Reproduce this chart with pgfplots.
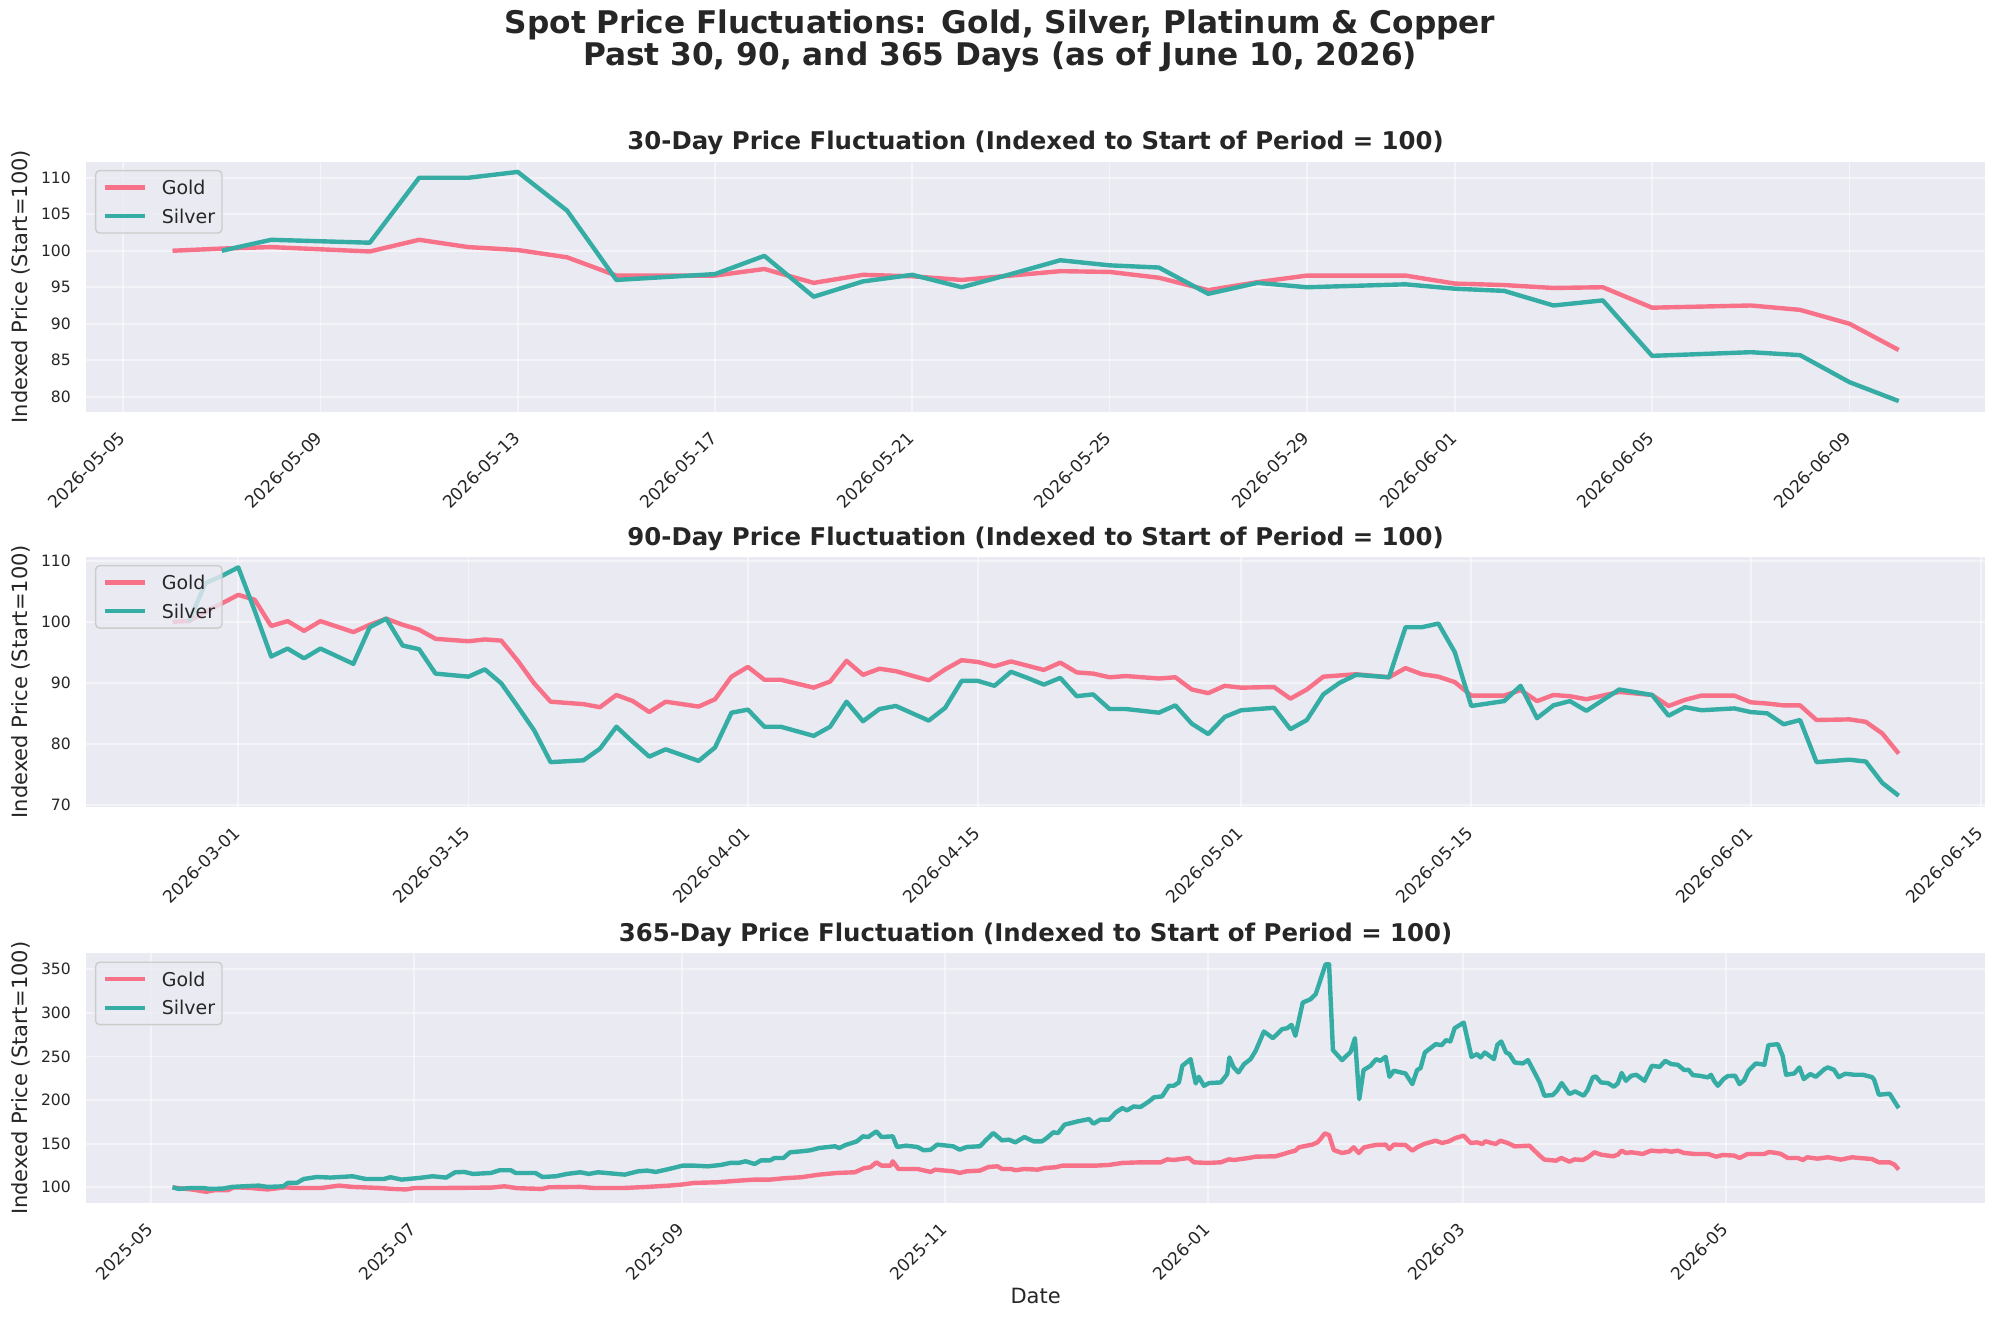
\documentclass[border=0pt]{standalone}
\usepackage{fontspec}
\setmainfont{DejaVu Sans}
\usepackage{pgfplots}
\pgfplotsset{compat=1.18}
\definecolor{axbg}{HTML}{EAEAF2}
\definecolor{goldc}{HTML}{F77189}
\definecolor{silverc}{HTML}{36ADA4}
\definecolor{txt}{HTML}{262626}
\pgfplotsset{
  panel/.style={
    scale only axis, width=949.4pt, height=125pt, anchor=north west,
    axis background/.style={fill=axbg},
    axis line style={draw=none},
    major tick length=0pt, tick style={draw=none},
    grid=major, major grid style={draw=white, line width=0.9pt, opacity=0.5},
    enlargelimits=false,
    /pgf/number format/assume math mode=true,
    tick label style={font=\fontsize{7.8}{9}\selectfont, text=txt},
    yticklabel style={anchor=east, inner sep=0pt, xshift=-7.5pt},
    xticklabel style={yshift=-9pt, xshift=-3pt, rotate=45, anchor=north east, inner sep=0pt, font=\fontsize{8.6}{10}\selectfont},
    every axis title/.style={at={(0.5,1)}, anchor=base, yshift=5.85pt, font=\bfseries\fontsize{12.2}{14}\selectfont, text=txt},
    ylabel={Indexed Price (Start=100)},
    ylabel style={at={(axis description cs:-0.0343,0.5)}, anchor=center, rotate=0, font=\fontsize{10.5}{12}\selectfont, text=txt},
    legend style={at={(axis description cs:0.0046,0.967)}, anchor=north west,
      draw=black!20, line width=0.7pt, fill=axbg, fill opacity=0.8, draw opacity=1, text opacity=1,
      rounded corners=2pt, font=\fontsize{9.5}{11}\selectfont, text=txt,
      inner xsep=3.4pt, inner ysep=5pt, row sep=7.4pt,
      nodes={inner sep=0pt, text height=6.9pt, text depth=0pt},
      /tikz/every odd column/.append style={column sep=7.5pt}},
    legend cell align=left,
    legend image code/.code={\draw[#1, line width=2.2pt] (0pt,0pt) -- (20pt,0pt);},
  },
  gl/.style={color=goldc, line width=2.2pt, line join=round, no markers},
  sl/.style={color=silverc, line width=2.2pt, line join=round, no markers},
}
\begin{document}
\begin{tikzpicture}
\useasboundingbox (0,0) rectangle (1000pt,-660pt);
\node[anchor=base, font=\bfseries\fontsize{15.6}{18}\selectfont, text=txt] at (500pt,-17pt) {Spot Price Fluctuations: Gold, Silver, Platinum \& Copper};
\node[anchor=base, font=\bfseries\fontsize{15.6}{18}\selectfont, text=txt] at (500pt,-32.85pt) {Past 30, 90, and 365 Days (as of June 10, 2026)};

% 30-day panel: x = day number with 2026-05-01 = 1, 2026-06-01 = 32
\begin{axis}[panel, at={(43.1pt,-80.85pt)},
  title={30-Day Price Fluctuation (Indexed to Start of Period = 100)},
  xmin=4.25, xmax=42.75, ymin=77.95, ymax=112.2,
  xtick={5,9,13,17,21,25,29,32,36,40},
  xticklabels={2026-05-05,2026-05-09,2026-05-13,2026-05-17,2026-05-21,2026-05-25,2026-05-29,2026-06-01,2026-06-05,2026-06-09},
  ytick={80,85,90,95,100,105,110}]
\addplot[gl] coordinates {(6,100.0)(7,100.3)(8,100.5)(10,99.9)(11,101.5)(12,100.5)(13,100.1)(14,99.1)(15,96.6)(17,96.6)(18,97.5)(19,95.6)(20,96.7)(21,96.5)(22,96.0)(23,96.6)(24,97.2)(25,97.1)(26,96.3)(27,94.6)(28,95.7)(29,96.6)(31,96.6)(32,95.5)(33,95.3)(34,94.9)(35,95.0)(36,92.2)(38,92.5)(39,91.9)(40,90.0)(41,86.4)};
\addlegendentry{Gold}
\addplot[sl] coordinates {(7,100.0)(8,101.5)(10,101.1)(11,110.0)(12,110.0)(13,110.8)(14,105.5)(15,96.0)(17,96.8)(18,99.3)(19,93.7)(20,95.8)(21,96.7)(22,95.0)(23,96.8)(24,98.7)(25,98.0)(26,97.7)(27,94.1)(28,95.6)(29,95.0)(31,95.4)(32,94.8)(33,94.5)(34,92.5)(35,93.2)(36,85.6)(38,86.1)(39,85.7)(40,82.0)(41,79.4)};
\addlegendentry{Silver}
\end{axis}

% 90-day panel: x = days since 2026-03-01
\begin{axis}[panel, at={(43.1pt,-278.35pt)},
  title={90-Day Price Fluctuation (Indexed to Start of Period = 100)},
  xmin=-9.25, xmax=106.25, ymin=69.7, ymax=110.65,
  xtick={0,14,31,45,61,75,92,106},
  xticklabels={2026-03-01,2026-03-15,2026-04-01,2026-04-15,2026-05-01,2026-05-15,2026-06-01,2026-06-15},
  ytick={70,80,90,100,110}]
\addplot[gl] coordinates {(-4,100.0)(-3,100.1)(-2,101.6)(-1,103.0)(0,104.4)(1,103.6)(2,99.3)(3,100.1)(4,98.5)(5,100.1)(7,98.3)(8,99.5)(9,100.5)(10,99.5)(11,98.7)(12,97.2)(14,96.8)(15,97.1)(16,96.9)(17,93.6)(18,89.9)(19,86.9)(21,86.5)(22,86.0)(23,88.0)(24,87.0)(25,85.2)(26,86.9)(28,86.1)(29,87.3)(30,91.0)(31,92.6)(32,90.5)(33,90.5)(35,89.2)(36,90.2)(37,93.6)(38,91.3)(39,92.3)(40,91.9)(42,90.4)(43,92.2)(44,93.7)(45,93.4)(46,92.7)(47,93.5)(48,92.8)(49,92.1)(50,93.3)(51,91.7)(52,91.5)(53,90.9)(54,91.1)(56,90.7)(57,90.9)(58,88.9)(59,88.3)(60,89.5)(61,89.2)(63,89.3)(64,87.4)(65,88.9)(66,91.0)(68,91.4)(70,90.9)(71,92.4)(72,91.4)(73,91.0)(74,90.1)(75,87.9)(77,87.9)(78,88.8)(79,87.0)(80,88.0)(81,87.8)(82,87.3)(84,88.5)(86,88.0)(87,86.2)(88,87.2)(89,87.9)(91,87.9)(92,86.8)(93,86.6)(94,86.3)(95,86.3)(96,83.9)(98,84.0)(99,83.6)(100,81.7)(101,78.4)};
\addlegendentry{Gold}
\addplot[sl] coordinates {(-3,100.0)(-2,106.3)(-1,107.5)(0,108.9)(1,101.8)(2,94.3)(3,95.6)(4,94.0)(5,95.6)(7,93.1)(8,99.1)(9,100.5)(10,96.1)(11,95.5)(12,91.5)(14,91.0)(15,92.2)(16,89.9)(17,86.1)(18,82.2)(19,77.0)(21,77.3)(22,79.2)(23,82.8)(24,80.3)(25,77.9)(26,79.1)(28,77.2)(29,79.4)(30,85.1)(31,85.6)(32,82.8)(33,82.8)(35,81.3)(36,82.8)(37,86.9)(38,83.7)(39,85.7)(40,86.2)(42,83.8)(43,85.9)(44,90.3)(45,90.3)(46,89.5)(47,91.8)(48,90.8)(49,89.7)(50,90.8)(51,87.8)(52,88.1)(53,85.7)(54,85.7)(56,85.1)(57,86.3)(58,83.3)(59,81.6)(60,84.4)(61,85.5)(63,85.9)(64,82.4)(65,83.9)(66,88.1)(67,90.0)(68,91.3)(70,90.9)(71,99.1)(72,99.1)(73,99.7)(74,95.0)(75,86.2)(77,87.0)(78,89.5)(79,84.2)(80,86.3)(81,87.0)(82,85.4)(84,88.9)(86,88.0)(87,84.6)(88,86.0)(89,85.5)(91,85.8)(92,85.2)(93,85.0)(94,83.2)(95,83.9)(96,77.0)(98,77.4)(99,77.1)(100,73.6)(101,71.5)};
\addlegendentry{Silver}
\end{axis}

% 365-day panel: x = days since 2025-05-01
\begin{axis}[panel, at={(43.1pt,-476.65pt)},
  title={365-Day Price Fluctuation (Indexed to Start of Period = 100)},
  xmin=-15, xmax=425, ymin=81.6, ymax=368.3,
  xtick={0,61,123,184,245,304,365},
  xticklabels={2025-05,2025-07,2025-09,2025-11,2026-01,2026-03,2026-05},
  ytick={100,150,200,250,300,350},
  xlabel={Date},
  xlabel style={at={(axis description cs:0.5,0)}, anchor=base, yshift=-50pt, font=\fontsize{10.5}{12}\selectfont, text=txt}]
\addplot[gl] coordinates {(5,100)(6.4,98.9)(9.5,97.5)(12.8,94.8)(14.7,96.6)(17.8,96.6)(19.3,100)(23,99.2)(27,97.5)(31.2,100)(33.3,99.2)(39.5,99.2)(43.6,101.9)(46.7,100.4)(52.9,99.2)(56,98.1)(59.1,97.5)(61.2,99.2)(68.4,99.2)(78.8,99.6)(81.9,101.1)(85,98.9)(90.7,98.1)(92.2,100)(99.5,100.4)(102.6,99.2)(109.8,99.2)(115,100.4)(120.1,101.9)(122.8,103)(125.9,105)(131.1,105.7)(136.2,107.6)(139.9,108.8)(143.5,108.8)(146.6,110.3)(150.7,111.5)(154.8,114.5)(159,116.4)(163.1,117.2)(165.2,121.8)(166.7,122.9)(168.1,128.6)(169.3,124.8)(171.4,124.8)(171.9,129.8)(173.2,121)(177.6,121)(180.7,117.6)(181.7,120.2)(185.9,118.3)(187.4,116.4)(189,118.3)(192.1,119.1)(194.1,123.3)(196.2,124)(197.2,121)(199.3,121)(200.3,119.5)(202.4,121)(205.5,120.2)(207.1,122.1)(209.6,122.9)(211.2,124.8)(218.9,124.8)(222,125.6)(225.1,127.9)(229.3,128.6)(234,128.6)(235.5,132)(237,131.3)(240.5,133.6)(241.7,128.6)(244.8,127.9)(247.9,128.6)(249.8,132)(251,131.3)(254.4,133.6)(256,135.1)(260.6,135.5)(262.5,138.2)(263.7,140.1)(265.2,142)(266,145.8)(269.1,148.9)(270.3,151.5)(271,155.3)(272,161.8)(273,159.9)(274.1,142.7)(276,139.3)(277.6,140.8)(278.7,145.8)(279.9,139.3)(281.1,145.8)(283.8,148.5)(286.1,148.9)(287,143.9)(288,148.9)(290.7,148.5)(292.3,142)(293.4,145.8)(295,149.6)(297.7,153.4)(299.2,150.8)(300.8,152.7)(302.3,156.5)(304.2,159.2)(305.8,150.8)(307.3,151.5)(308.5,149.6)(309.2,152.7)(311.6,149.6)(312.7,153.4)(314.4,150.8)(316,146.9)(319.4,147.7)(321.8,136.3)(322.9,131.7)(325.6,130.5)(326.8,133.6)(328.7,129.4)(329.9,132)(331.8,131.3)(333,134.4)(334.5,140.1)(336,137.4)(338.8,135.5)(339.9,137.4)(340.8,142)(341.8,139.3)(343,140.1)(345.7,138.2)(347.6,142)(349.6,141.2)(350.9,142)(352.3,140.8)(353.8,142)(355.3,139.3)(357.7,138.2)(360.8,138.2)(362.7,135.1)(364.2,137)(366.9,136.3)(368.1,133.6)(370,138.2)(373.9,138.2)(375,140.5)(377,139)(377.7,138.2)(379.3,133.6)(381.6,133.6)(382.8,131.3)(383.8,134.4)(386.2,132.8)(388.6,134.4)(391.6,131.7)(394.2,134.4)(395.7,133.6)(398.8,132.4)(400.4,128.6)(402.9,128.6)(404,126)(405,120.2)};
\addlegendentry{Gold}
\addplot[sl] coordinates {(5,100)(6.4,98.1)(9.5,99.2)(12.1,99.2)(13.6,98.1)(16.7,98.5)(18.8,100.4)(21.4,101.1)(25,101.9)(27,100.4)(30.7,101.1)(31.7,105)(33.8,105)(35.4,109.5)(38.5,111.8)(41.6,111.1)(46.7,112.6)(49.8,109.5)(54,109.5)(55.5,111.5)(58.1,108.8)(62.2,110.7)(65.3,112.6)(68.4,111.1)(70.5,117.2)(72.6,117.6)(74.6,115.3)(78.8,116.4)(80.8,119.5)(83.4,119.5)(84.5,116.4)(89.1,116.4)(90.7,111.8)(93.8,112.6)(96.4,115.3)(99.5,117.2)(101.5,115.3)(103.6,117.2)(109.8,114.5)(112.9,118.3)(115,119.1)(117,117.6)(120.1,121)(123.2,124.8)(125.9,124.8)(129,124)(132.1,125.6)(134.2,127.9)(136.2,127.9)(137.8,129.8)(139.9,126.7)(141.4,130.9)(143.5,130.9)(144.5,133.6)(146.6,133.6)(148.1,140.1)(150.7,141.2)(152.8,142.4)(154.8,145)(158.5,147)(159.5,145)(161,148.5)(163.6,152.7)(165,158.4)(166.2,157.6)(168.1,164.1)(169.3,157.6)(171.9,158.4)(172.9,146.2)(175,147.7)(177.6,146.2)(179.1,142.4)(180.7,143.1)(182.2,148.9)(185.9,147)(187.4,143.1)(189,146.2)(192.1,147)(193.6,154.6)(195.2,162.2)(197.2,153.8)(198.8,154.6)(200.3,151.5)(202.4,157.6)(204.5,152.7)(206.5,152.7)(207.6,156.5)(209.1,163)(210.2,162.2)(211.7,171.8)(214.8,175.6)(217.4,178.2)(218.4,172.9)(220,177.5)(222,177.5)(223.6,185.9)(225.1,190.8)(226.2,188.2)(227.7,192.7)(229.3,192)(231.3,198.5)(232.4,203.1)(234.3,204.2)(235.9,216.4)(237,216.4)(238.2,220.2)(239,239.3)(240.9,246.9)(242.1,219.1)(242.8,226.7)(244,216.4)(245.2,219.5)(247.9,220.2)(249.4,229.8)(249.9,248.9)(250.9,237.4)(252,231.7)(253.3,241.2)(254.8,246.9)(256,256.5)(257.9,278.6)(260,271)(262.1,281.3)(263.3,282.4)(264.3,286.3)(265.2,273.7)(266.9,311.8)(268.7,315.6)(269.9,321.4)(272.2,355.7)(273,355.7)(273.9,257.3)(276,245.8)(278,255.3)(279,271)(280,201.1)(281,234.4)(282.6,239.3)(283.9,246.9)(284.9,245)(286.1,249.6)(287,226.7)(288,233.6)(290.7,230.5)(292.3,218.3)(293.4,234.4)(294.2,236.6)(295.2,254.6)(297.7,264.1)(299.1,263)(300.1,268.7)(301.1,267.2)(302.1,282.4)(304.2,288.9)(306,249.6)(307.3,252.7)(308.1,248.9)(309.1,254.6)(311.2,246.9)(312,263.4)(312.9,267.2)(314,254.6)(314.8,252.7)(316,243.1)(317.9,242)(319.1,245.8)(320.2,235.5)(321.8,220.2)(322.9,205)(324.8,205.7)(325.8,210.7)(326.9,219.5)(328.7,206.9)(330,209.9)(332,205)(332.9,211.5)(334.1,226)(334.8,227.1)(336,220.2)(337.6,219.5)(339,215.3)(339.9,219.1)(340.8,231.1)(341.8,222.1)(343,227.8)(344.2,229)(346.1,222.1)(347.8,239.3)(349.6,238.1)(350.9,245)(352.3,241.2)(353.8,240.5)(355.3,234.4)(356.3,234.7)(357.3,228.6)(358.8,227.9)(360.8,226)(361.5,229)(362.3,221.4)(363.1,216.4)(364.4,224.1)(365.4,227.5)(367.1,227.9)(368.1,218.3)(369.2,222.9)(370.2,233.6)(371.9,242)(373.9,240.5)(374.8,263)(377,264.1)(378.1,250.8)(378.9,229)(380.8,230.5)(382,237.4)(383,224.1)(384.5,229.8)(385.8,226.7)(387.8,235.5)(388.6,237.4)(390,234.7)(391.1,226.3)(392.6,230.2)(394.7,229)(396.7,229)(398.8,226.3)(399.3,223.5)(400.4,206.1)(402.9,207.3)(404,198.5)(405,190.8)};
\addlegendentry{Silver}
\end{axis}
\end{tikzpicture}
\end{document}
